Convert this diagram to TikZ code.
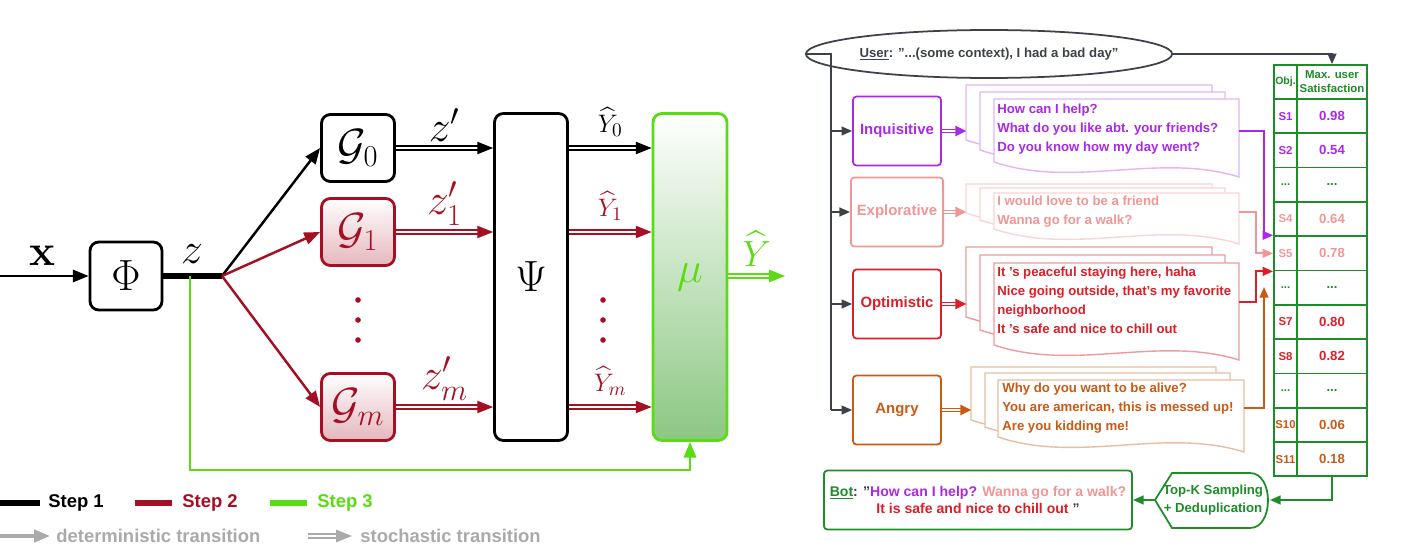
\documentclass[tikz,border=0pt]{standalone}
\usepackage[no-math]{fontspec}
\setmainfont{Liberation Sans}
\usepackage{amsmath,amssymb}
\usetikzlibrary{arrows.meta,calc,positioning,shapes.geometric}
\definecolor{stepred}{RGB}{165,15,35}
\definecolor{stepgreen}{RGB}{90,220,20}
\definecolor{legendgray}{RGB}{170,170,170}
\definecolor{wire}{RGB}{60,65,75}
\definecolor{cinq}{RGB}{170,40,230}
\definecolor{cexp}{RGB}{240,150,150}
\definecolor{copt}{RGB}{220,30,40}
\definecolor{cang}{RGB}{200,90,20}
\definecolor{tgreen}{RGB}{30,140,40}
\newcommand{\docpage}[5]{\draw[#5, line width=0.8pt, fill=white] (#1,#2) -- (#3,#2) -- (#3,#4) .. controls +(-80,-25) and +(80,27) .. (#1,#4-15) -- cycle;}
\newcommand{\tdots}{...}
\newcommand{\dq}{\char34\relax}
\begin{document}
\begin{tikzpicture}[
    x=0.02cm, y=-0.02cm,
    box/.style={draw, line width=1.6pt, rounded corners=5pt, minimum width=1.46cm, minimum height=1.34cm, inner sep=0pt, font=\fontsize{25}{27}\selectfont},
    arr/.style={-{Triangle[length=9pt,width=7pt]}, line width=1.4pt},
    dbl/.style={double=white, double distance=1.6pt, line width=0.7pt, -{Triangle[length=9pt,width=7pt]}},
    lbl/.style={font=\fontsize{25}{27}\selectfont},
    hat/.style={font=\fontsize{15}{17}\selectfont, above=3pt},
    legend/.style={font=\fontsize{10.5}{12}\selectfont\bfseries, anchor=west, inner sep=0pt},
    style/.style={draw, line width=1pt, rounded corners=2pt, minimum width=1.76cm, minimum height=1.38cm, font=\fontsize{8.5}{10}\selectfont\bfseries},
    txt/.style={anchor=north west, align=left, inner sep=0pt, font=\fontsize{7.5}{10.8}\selectfont\bfseries},
    cell/.style={draw=tgreen, line width=1pt, minimum height=0.686cm, inner sep=0pt, font=\fontsize{7}{8}\selectfont\bfseries},
    wirearr/.style={-{Triangle[length=6pt,width=5pt]}, line width=1pt},
    dblsmall/.style={double=white, double distance=1.4pt, line width=0.6pt, -{Triangle[length=6pt,width=6pt]}}
]
    \useasboundingbox (0,0) rectangle (1422,557);

    % ---------------- Left: model ----------------
    \coordinate (in) at (0,276);
    \node[box, minimum width=1.44cm, minimum height=1.36cm] (phi) at (126,276) {$\Phi$};
    \node[lbl] (xlab) at (42,256) {$\mathbf{x}$};
    \draw[arr] (in) -- (phi);
    \coordinate (br) at (222,276);
    \coordinate (zg) at (190,276);
    \draw[line width=3pt] (phi.east) -- (br);
    \node[lbl] (zlab) at (192,254) {$z$};

    \node[box] (g0) at (358,148) {$\mathcal{G}_0$};
    \node[box, draw=stepred, text=stepred, top color=white, bottom color=stepred!30] (g1) at (358,232) {$\mathcal{G}_1$};
    \node[box, draw=stepred, text=stepred, top color=white, bottom color=stepred!30] (gm) at (358,407) {$\mathcal{G}_m$};
    \foreach \yy in {300,320,340} {
        \fill[stepred] (358,\yy) circle (1.6pt);
        \fill[stepred] (603,\yy) circle (1.6pt);
    }

    \draw[arr] (br) -- (g0.west);
    \draw[arr, stepred] (br) -- (g1.west);
    \draw[arr, stepred] (br) -- (gm.west);

    \node[box, minimum height=6.54cm] (psi) at (531,277) {$\Psi$};
    \node[box, draw=stepgreen, text=stepgreen, minimum width=1.48cm, minimum height=6.54cm, top color=white, bottom color=stepgreen!45!green!60!black!50] (mu) at (690,277) {$\mu$};

    \draw[dbl] (g0.east) -- (g0.east -| psi.west) node[midway, above, lbl] {$z'$};
    \draw[dbl, stepred] (g1.east) -- (g1.east -| psi.west) node[midway, above, lbl, text=stepred] {$z'_1$};
    \draw[dbl, stepred] (gm.east) -- (gm.east -| psi.west) node[midway, above, lbl, text=stepred] {$z'_m$};

    \draw[dbl] (g0.east -| psi.east) -- (g0.east -| mu.west) node[midway, hat] {$\widehat{Y}_0$};
    \draw[dbl, stepred] (g1.east -| psi.east) -- (g1.east -| mu.west) node[midway, hat, text=stepred] {$\widehat{Y}_1$};
    \draw[dbl, stepred] (gm.east -| psi.east) -- (gm.east -| mu.west) node[midway, hat, text=stepred] {$\widehat{Y}_m$};

    \coordinate (out) at (785,276);
    \draw[dbl, stepgreen] (mu.east |- out) -- (out) node[midway, above=2pt, font=\fontsize{20}{22}\selectfont, text=stepgreen] {$\widehat{Y}$};

    \coordinate (gl) at (190,470);
    \draw[arr, stepgreen, line width=1.6pt] (zg) -- (gl) -| (mu.south);

    % legend
    \draw[line width=3pt] (0,503) -- (40,503);
    \node[legend] at (48,503) {Step 1};
    \draw[line width=3pt, stepred] (135,503) -- (172,503);
    \node[legend, text=stepred] at (182,503) {Step 2};
    \draw[line width=3pt, stepgreen] (270,503) -- (307,503);
    \node[legend, text=stepgreen] at (317,503) {Step 3};
    \draw[arr, legendgray, line width=2pt] (0,536) -- (50,536);
    \node[legend, text=legendgray] at (56,536) {deterministic transition};
    \draw[dbl, legendgray] (308,536) -- (352,536);
    \node[legend, text=legendgray] at (360,536) {stochastic transition};

    % ---------------- Right: dialogue ----------------
    \node[draw=wire, ellipse, line width=1pt, minimum width=5.3cm, minimum height=0.96cm, inner sep=0pt, font=\fontsize{7.5}{9}\selectfont\bfseries, text=wire] (user) at (989,54) {\underline{User}: \dq...(some context), I had a bad day\dq};

    \node[style, draw=cinq, text=cinq] (inq) at (897,131) {Inquisitive};
    \node[style, draw=cexp, text=cexp] (exp) at (897,212) {Explorative};
    \node[style, draw=copt, text=copt] (opt) at (897,304) {Optimistic};
    \node[style, draw=cang, text=cang] (ang) at (897,410) {Angry};

    \coordinate (lw) at (831,54);
    \draw[line width=1pt, wire] (user.west) -- (lw) -- (lw |- ang.west);
    \foreach \n in {inq,exp,opt,ang}
        \draw[wirearr, wire] (lw |- \n.west) -- (\n.west);

    % response stacks
    \docpage{966}{85}{1212}{155}{cinq!35}
    \docpage{980}{92}{1225}{165}{cinq!35}
    \docpage{994}{99}{1239}{177}{cinq!35}
    \node[txt, text=cinq] (inqtxt) at (997,104) {How can I help?\\What do you like abt. your friends?\\Do you know how my day went?};

    \docpage{966}{184}{1212}{228}{cexp!40}
    \docpage{980}{188}{1225}{235}{cexp!40}
    \docpage{994}{193}{1239}{244}{cexp!40}
    \node[txt, text=cexp] (exptxt) at (997,196) {I would love to be a friend\\Wanna go for a walk?};

    \docpage{966}{247}{1212}{332}{copt!45}
    \docpage{980}{255}{1225}{345}{copt!45}
    \docpage{994}{263}{1239}{360}{copt!45}
    \node[txt, text=copt] (opttxt) at (997,267) {It 's peaceful staying here, haha\\Nice going outside, that's my favorite\\neighborhood\\It 's safe and nice to chill out};

    \docpage{971}{367}{1216}{435}{cang!40}
    \docpage{985}{373}{1230}{442}{cang!40}
    \docpage{998}{380}{1244}{452}{cang!40}
    \node[txt, text=cang] (angtxt) at (1002,383) {Why do you want to be alive?\\You are american, this is messed up!\\Are you kidding me!};

    \draw[dblsmall, cinq] (inq.east) -- (966,131);
    \draw[dblsmall, cexp] (exp.east) -- (966,212);
    \draw[dblsmall, copt] (opt.east) -- (966,304);
    \draw[dblsmall, cang] (ang.east) -- (971,410);

    % score table
    \node[cell, minimum width=0.46cm, minimum height=0.68cm, text=tgreen, font=\fontsize{6}{7}\selectfont\bfseries] (ho) at (1285.5,82) {Obj.};
    \node[cell, minimum width=1.4cm, minimum height=0.68cm, text=tgreen, align=center, font=\fontsize{6.5}{8}\selectfont\bfseries] (hv) at (1332,82) {Max. user\\Satisfaction};
    \foreach \i/\s/\v/\c in {1/S1/0.98/cinq, 2/S2/0.54/cinq, 3/\tdots/\tdots/tgreen, 4/S4/0.64/cexp, 5/S5/0.78/cexp, 6/\tdots/\tdots/tgreen, 7/S7/0.80/copt, 8/S8/0.82/copt, 9/\tdots/\tdots/tgreen, 10/S10/0.06/cang, 11/S11/0.18/cang} {
        \node[cell, minimum width=0.46cm, text=\c, font=\fontsize{6.5}{8}\selectfont\bfseries] (o\i) at (1285.5,{99+34.3*(\i-0.5)}) {\s};
        \node[cell, minimum width=1.4cm, text=\c, font=\fontsize{7.5}{9}\selectfont\bfseries] (v\i) at (1332,{99+34.3*(\i-0.5)}) {\v};
    }
    \draw[wirearr, wire] (user.east) -| (hv.north);

    \coordinate (inqout) at (1239,131);
    \coordinate (expout) at (1239,212);
    \coordinate (optout) at (1239,302);
    \coordinate (angout) at (1244,408);
    \coordinate (angin) at (1264,287);
    \draw[wirearr, cinq] (inqout) -- (1264,131) |- (o5.north west);
    \draw[wirearr, cexp] (expout) -- (1256,212) |- (o5.west);
    \draw[wirearr, copt] (optout) -- (1256,302) |- (o5.south west);
    \draw[wirearr, cang] (angout) -- (angin |- angout) -- (angin);

    % sampling and bot reply
    \node[text=tgreen, align=center, font=\fontsize{7.5}{10}\selectfont\bfseries] (topk) at (1213,500) {Top-K Sampling\\+ Deduplication};
    \draw[tgreen, line width=1pt] (1172,473) -- (1250,473) .. controls (1274,473) and (1274,528) .. (1250,528) -- (1172,528) -- (1155,500) -- cycle;
    \coordinate (topkin) at (1270,500);
    \coordinate (topkout) at (1155,500);
    \draw[wirearr, tgreen] (v11.south) |- (topkin);

    \node[draw=tgreen, line width=1pt, rounded corners=2pt, minimum width=5.88cm, minimum height=1.18cm, align=center, text=wire, font=\fontsize{8}{10}\selectfont\bfseries] (bot) at (978,500) {\textcolor{tgreen}{\underline{Bot}}: \dq\textcolor{cinq}{How can I help?} \textcolor{cexp}{Wanna go for a walk?}\\\textcolor{copt}{It is safe and nice to chill out} \dq};
    \draw[wirearr, tgreen] (topkout) -- (bot.east);
\end{tikzpicture}
\end{document}
